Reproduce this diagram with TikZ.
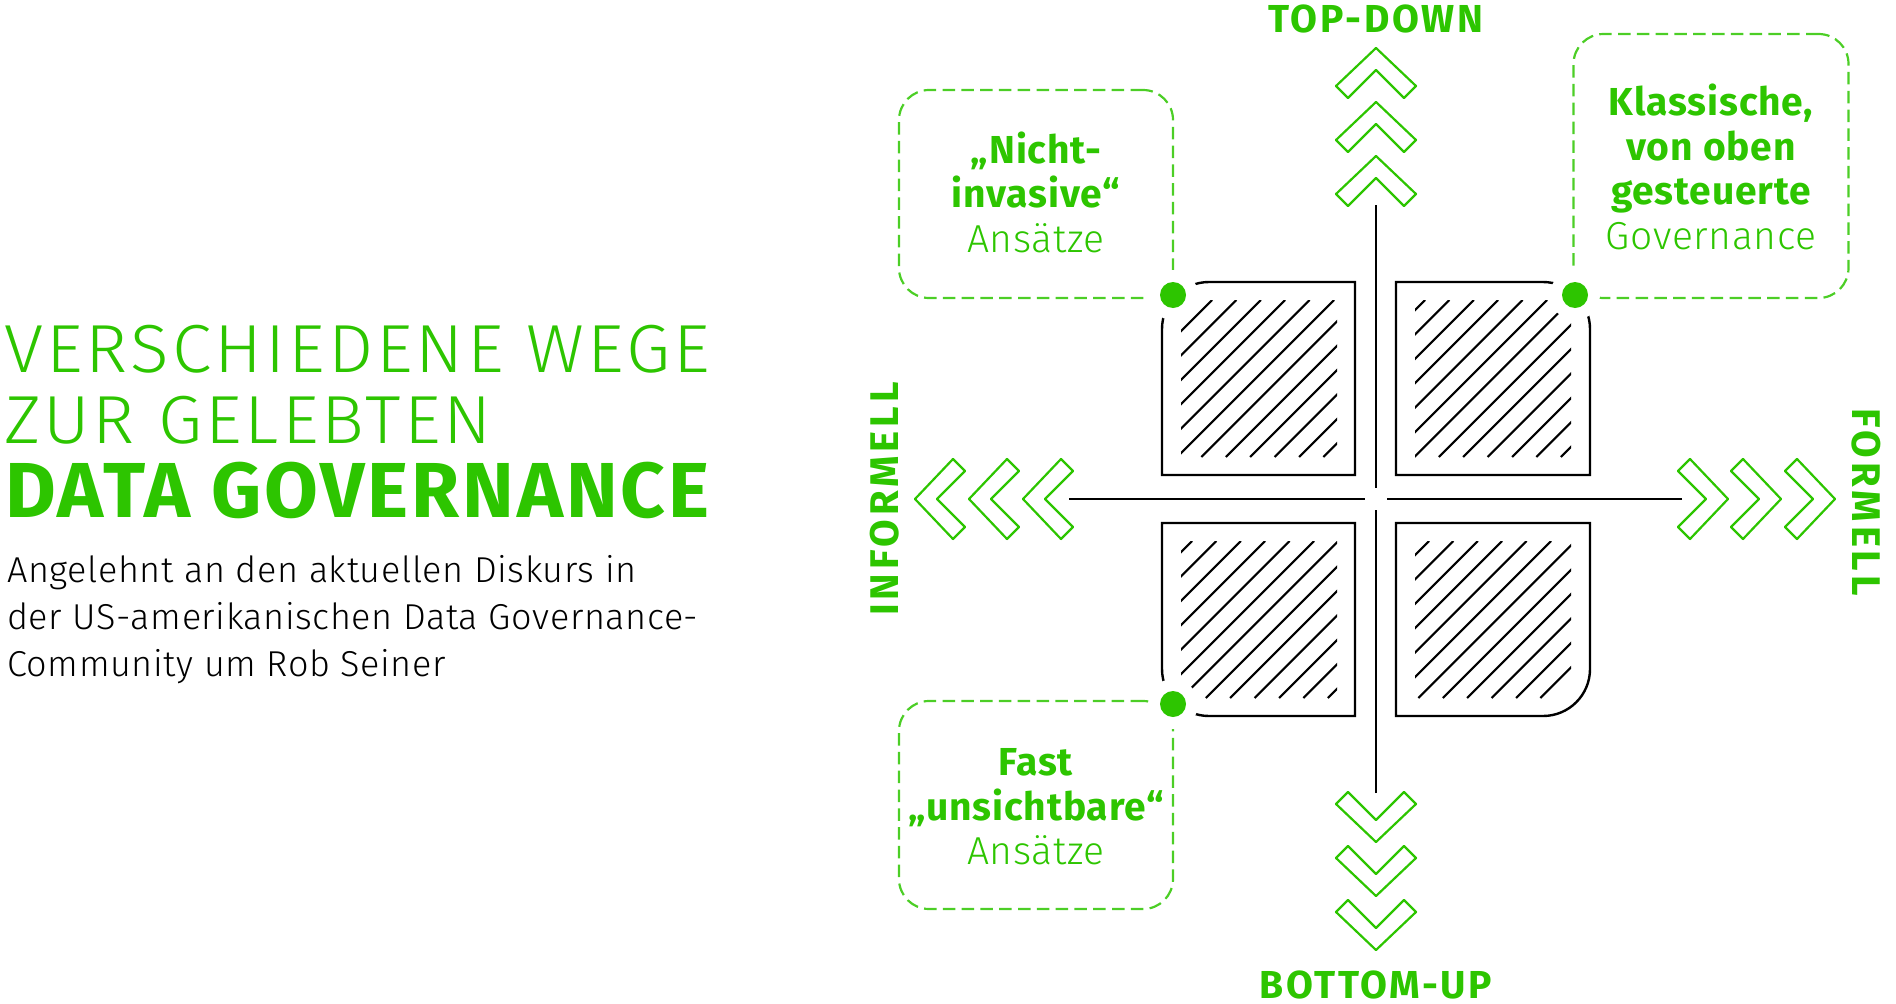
\documentclass[tikz,border=0pt]{standalone}
\usepackage{fontspec}
\setmainfont{Fira Sans}
\newfontfamily\titlefont{Fira Sans Light}[FakeStretch=1.05,LetterSpace=4.5]
\newfontfamily\lightfont{Fira Sans Light}[LetterSpace=1.6]
\newfontfamily\headfont{Fira Sans}[BoldFont={* Bold},LetterSpace=3.6]
\newfontfamily\boldfont{Fira Sans}[BoldFont={* Bold},LetterSpace=2.2]
\newfontfamily\dirfont{Fira Sans}[BoldFont={* Bold},LetterSpace=6.5]
\newfontfamily\sidefont{Fira Sans}[BoldFont={* Bold},LetterSpace=9.5]
\definecolor{dgreen}{RGB}{45,197,0}
\begin{document}
\begin{tikzpicture}[x=1pt,y=-1pt]
        \tikzset{sq/.style = {black, line width=2.4pt, line join=miter}}
        \tikzset{axis/.style = {black, line width=2.4pt}}
        \tikzset{hatch/.style = {black, line width=2.1pt}}
        \tikzset{chevline/.style = {dgreen, line width=2.2pt, line join=round}}
        \tikzset{chev/.pic = {\draw[chevline] (0,0) -- (40,38) -- (28,50) -- (0,22) -- (-28,50) -- (-40,38) -- cycle;}}
        \tikzset{dashbox/.style = {draw=dgreen!85!white, line width=2.2pt, dash pattern=on 12.5pt off 6.3pt, rounded corners=30pt, inner sep=0pt}}
        \tikzset{boxtext/.style = {inner sep=0pt, align=center, text=dgreen, font=\lightfont\fontsize{39}{44.5}\selectfont}}
        \tikzset{halo/.style = {circle, fill=white, inner sep=0pt, minimum size=50pt}}
        \tikzset{gdot/.style = {circle, fill=dgreen, inner sep=0pt, minimum size=26pt}}
        \tikzset{direction/.style = {text=dgreen, font=\dirfont\bfseries\fontsize{39}{39}\selectfont, inner sep=0pt, anchor=base}}
        \tikzset{sidedirection/.style = {text=dgreen, font=\sidefont\bfseries\fontsize{40}{40}\selectfont, inner sep=0pt, anchor=base}}
        \useasboundingbox (0,0) rectangle (1896,1004);

        % title and text
        \node[anchor=base west, inner sep=0pt, text=dgreen, font=\titlefont\fontsize{68}{68}\selectfont] (title1) at (4,372) {VERSCHIEDENE WEGE};
        \node[anchor=base west, inner sep=0pt, text=dgreen, font=\titlefont\fontsize{68}{68}\selectfont] (title2) at (4,443) {ZUR GELEBTEN};
        \node[anchor=base west, inner sep=0pt, text=dgreen, font=\headfont\bfseries\fontsize{78}{78}\selectfont] (title3) at (5,517) {DATA GOVERNANCE};
        \node[anchor=base west, inner sep=0pt, font=\lightfont\fontsize{36}{36}\selectfont] (text1) at (7,582) {Angelehnt an den aktuellen Diskurs in};
        \node[anchor=base west, inner sep=0pt, font=\lightfont\fontsize{36}{36}\selectfont] (text2) at (7,629) {der US-amerikanischen Data Governance-};
        \node[anchor=base west, inner sep=0pt, font=\lightfont\fontsize{36}{36}\selectfont] (text3) at (7,676) {Community um Rob Seiner};

        % hatching
        \begin{scope}
        \clip (1181,300) rectangle (1337,457);
        \foreach \k in {-1,...,11} \draw[hatch] ({1512+24.4*\k-300},300) -- ({1512+24.4*\k-457},457);
        \end{scope}
        \begin{scope}
        \clip (1415,300) rectangle (1571,457);
        \foreach \k in {0,...,12} \draw[hatch] ({1725+24.4*\k-300},300) -- ({1725+24.4*\k-457},457);
        \end{scope}
        \begin{scope}
        \clip (1181,541) rectangle (1337,698);
        \foreach \k in {0,...,12} \draw[hatch] ({1733+24.4*\k-541},541) -- ({1733+24.4*\k-698},698);
        \end{scope}
        \begin{scope}
        \clip (1415,541) rectangle (1571,698);
        \foreach \k in {0,...,11} \draw[hatch] ({1970+24.4*\k-541},541) -- ({1970+24.4*\k-698},698);
        \end{scope}

        % squares
        \draw[sq] (1355,282) -- (1355,475) -- (1162,475) [rounded corners=47pt] -- (1162,282) [sharp corners] -- cycle;
        \draw[sq] (1396,475) -- (1396,282) [rounded corners=47pt] -- (1590,282) [sharp corners] -- (1590,475) -- cycle;
        \draw[sq] (1355,716) -- (1355,523) -- (1162,523) [rounded corners=47pt] -- (1162,716) [sharp corners] -- cycle;
        \draw[sq] (1396,716) -- (1396,523) -- (1590,523) [rounded corners=47pt] -- (1590,716) [sharp corners] -- cycle;

        % axes
        \coordinate (up) at (1376,205);
        \coordinate (upgap) at (1376,488);
        \coordinate (down) at (1376,793);
        \coordinate (downgap) at (1376,510);
        \coordinate (left) at (1069,499);
        \coordinate (leftgap) at (1365,499);
        \coordinate (right) at (1682,499);
        \coordinate (rightgap) at (1387,499);
        \draw[axis] (up) -- (upgap);
        \draw[axis] (down) -- (downgap);
        \draw[axis] (left) -- (leftgap);
        \draw[axis] (right) -- (rightgap);

        % chevrons
        \pic at (1376,48) {chev};
        \pic at (1376,102) {chev};
        \pic at (1376,156) {chev};
        \pic[rotate=180] at (1376,842) {chev};
        \pic[rotate=180] at (1376,896) {chev};
        \pic[rotate=180] at (1376,950) {chev};
        \pic[rotate=90] at (915,499) {chev};
        \pic[rotate=90] at (969,499) {chev};
        \pic[rotate=90] at (1023,499) {chev};
        \pic[rotate=-90] at (1728,499) {chev};
        \pic[rotate=-90] at (1781,499) {chev};
        \pic[rotate=-90] at (1835,499) {chev};

        % dashed boxes
        \node[dashbox, minimum width=274pt, minimum height=208pt] (nichtinvasiv) at (1036,194) {};
        \node[dashbox, minimum width=275pt, minimum height=264pt] (klassisch) at (1711,166) {};
        \node[dashbox, minimum width=274pt, minimum height=208pt] (unsichtbar) at (1036,805) {};
        \node[boxtext] (nichtinvasivtext) at (1036,192) {{\boldfont\bfseries „Nicht-}\\{\boldfont\bfseries invasive“}\\Ansätze};
        \node[boxtext] (klassischtext) at (1711,167) {{\boldfont\bfseries Klassische,}\\{\boldfont\bfseries von oben}\\{\boldfont\bfseries gesteuerte}\\Governance};
        \node[boxtext] (unsichtbartext) at (1036,807) {{\boldfont\bfseries Fast}\\{\boldfont\bfseries „unsichtbare“}\\Ansätze};

        % dots
        \node[halo] (halo1) at (1173,295) {};
        \node[halo] (halo2) at (1575,295) {};
        \node[halo] (halo3) at (1173,704) {};
        \node[gdot] (dot1) at (1173,295) {};
        \node[gdot] (dot2) at (1575,295) {};
        \node[gdot] (dot3) at (1173,704) {};

        % directions
        \node[direction] (topdown) at (1376,32) {TOP-DOWN};
        \node[direction] (bottomup) at (1376,998) {BOTTOM-UP};
        \node[sidedirection, rotate=90] (informell) at (898,499) {INFORMELL};
        \node[sidedirection, rotate=-90] (formell) at (1852,502) {FORMELL};
\end{tikzpicture}
\end{document}
